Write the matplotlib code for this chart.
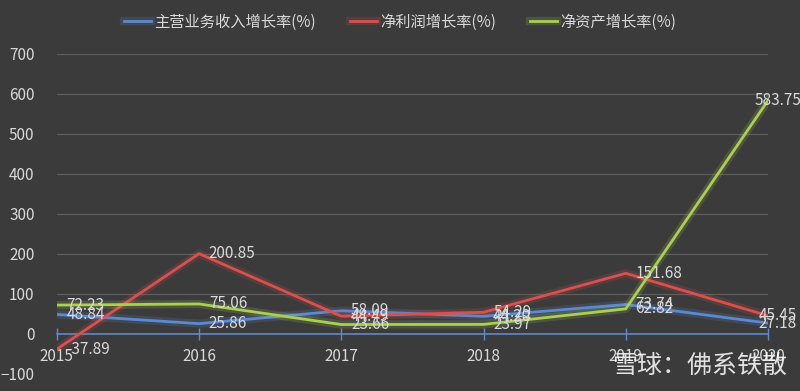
import matplotlib
matplotlib.use("Agg")
import matplotlib.pyplot as plt
import matplotlib.patheffects as pe

plt.rcParams['font.family'] = ['Noto Sans CJK SC', 'DejaVu Sans']

# data
years = ['2015', '2016', '2017', '2018', '2019', '2020']
revenue_growth = [48.84, 25.86, 58.09, 44.20, 73.74, 27.18]
profit_growth = [-37.89, 200.85, 44.49, 54.29, 151.68, 45.45]
equity_growth = [72.23, 75.06, 23.66, 23.97, 62.82, 583.75]
series_names = ['主营业务收入增长率(%)', '净利润增长率(%)', '净资产增长率(%)']
series_colors = ['#5b8ad0', '#d9514e', '#a9cf54']

bg = '#3b3b3b'
txt = '#d9d9d9'

fig = plt.figure(figsize=(8, 3.91), dpi=100, facecolor=bg)
ax = fig.add_axes([0.071, 0.0435, 0.889, 0.8185], facecolor=bg)

x = list(range(len(years)))
for vals, name, col in zip([revenue_growth, profit_growth, equity_growth], series_names, series_colors):
    ax.plot(x, vals, color=col, lw=2, label=name, zorder=3,
            path_effects=[pe.Stroke(linewidth=6, foreground=col, alpha=0.18), pe.Normal()])
    for i, v in enumerate(vals):
        if i == len(vals) - 1:
            ax.annotate(f'{v:.2f}', (i, v), xytext=(7, 0), textcoords='offset points',
                        ha='center', va='center', color=txt, fontsize=11, zorder=5)
        else:
            ax.annotate(f'{v:.2f}', (i, v), xytext=(7, 0), textcoords='offset points',
                        ha='left', va='center', color=txt, fontsize=11, zorder=5)

ax.set_xlim(0, 5)
ax.set_ylim(-100, 700)
ax.set_yticks(range(-100, 701, 100))
for yv in range(100, 701, 100):
    ax.axhline(yv, color='#5c5c5c', lw=0.9, zorder=1)

for s in ['top', 'right', 'left']:
    ax.spines[s].set_visible(False)
ax.spines['bottom'].set_position(('data', 0))
ax.spines['bottom'].set_color('#5b8ad0')
ax.spines['bottom'].set_linewidth(1.2)

ax.set_xticks(x)
ax.set_xticklabels(years)
ax.tick_params(axis='x', colors='#5b8ad0', direction='inout', length=8, width=1,
               labelcolor=txt, labelsize=11, pad=6)
ax.tick_params(axis='y', length=0, labelcolor=txt, labelsize=11, pad=16)

leg = fig.legend(loc='upper center', bbox_to_anchor=(0.5, 1.0), ncol=3, frameon=False,
                 fontsize=11, handlelength=1.8, handletextpad=0.2, columnspacing=2.2)
for t in leg.get_texts():
    t.set_color(txt)

# watermark
fig.text(0.765, 0.065, '雪球：佛系铁散', color='white', alpha=0.85, fontsize=18,
         ha='left', va='center', zorder=10)

fig.savefig('out.png', dpi=100, facecolor=bg)
